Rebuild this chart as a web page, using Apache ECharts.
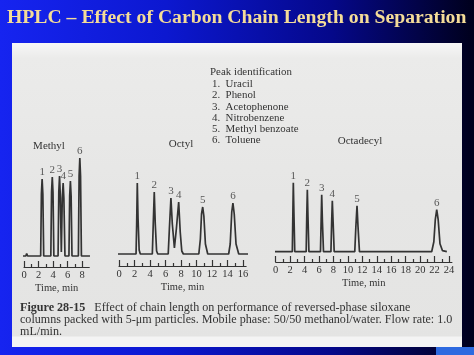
<!DOCTYPE html>
<html><head><meta charset="utf-8">
<script src="https://cdn.jsdelivr.net/npm/echarts@6/dist/echarts.min.js"></script>
<style>html,body{margin:0;padding:0;background:#000;}#c{width:474px;height:355px;}</style>
</head><body><div id="c"></div>
<script>
// ---------- text ----------
const titleText = 'HPLC \u2013 Effect of Carbon Chain Length on Separation';
const columnNames = ['Methyl', 'Octyl', 'Octadecyl'];
const axisName = 'Time, min';
const peakNumbers = ['1', '2', '3', '4', '5', '6'];
const peakIdentification = ['Peak identification', '1.  Uracil', '2.  Phenol', '3.  Acetophenone',
  '4.  Nitrobenzene', '5.  Methyl benzoate', '6.  Toluene'];
const captionBold = 'Figure 28-15';
const captionLines = ['Effect of chain length on performance of reversed-phase siloxane',
  'columns packed with 5-\u03bcm particles. Mobile phase: 50/50 methanol/water. Flow rate: 1.0',
  'mL/min.'];

// ---------- tick values (min) ----------
const methylTickLabels = [0, 2, 4, 6, 8];
const methylMinorTicks = [1, 3, 5, 7];
const octylTickLabels = [0, 2, 4, 6, 8, 10, 12, 14, 16];
const octylMinorTicks = [1, 3, 5, 7, 9, 11, 13, 15];
const octadecylTickLabels = [0, 2, 4, 6, 8, 10, 12, 14, 16, 18, 20, 22, 24];
const octadecylMinorTicks = [1, 3, 5, 7, 9, 11, 13, 15, 17, 19, 21, 23];

// ---------- peaks: retention time (min) and height (detector units) ----------
const methylPeakTimes = [2.5, 3.9, 4.9, 5.4, 6.4, 7.7];
const methylPeakHeights = [77, 79, 80, 73, 75, 98];
const octylPeakTimes = [2.36, 4.55, 6.7, 7.7, 10.8, 14.7];
const octylPeakHeights = [71, 62, 56, 52, 47, 51];
const octadecylPeakTimes = [2.44, 4.38, 6.37, 7.84, 11.26, 22.3];
const octadecylPeakHeights = [69, 62, 57, 51, 46, 42];

// ---------- chromatogram traces [time, signal] ----------
const methylTrace = [[-0.8, 0], [0.25, 0], [0.37, 2.5], [0.5, 0],
  [2.3, 0], [2.4, 62], [2.5, 77], [2.6, 62], [2.72, 0],
  [3.7, 0], [3.8, 64], [3.9, 79], [4.0, 64], [4.12, 0],
  [4.7, 0], [4.8, 64], [4.9, 80], [5.0, 62], [5.15, 4], [5.28, 58], [5.4, 73], [5.5, 58], [5.65, 0],
  [6.2, 0], [6.3, 60], [6.4, 75], [6.5, 60], [6.62, 0],
  [7.5, 0], [7.6, 80], [7.7, 98], [7.8, 80], [7.92, 0],
  [9.1, 0]];
const octylTrace = [[-0.25, 0], [0.65, 0], [0.75, 1.5], [0.85, 0],
  [2.2, 0], [2.28, 30], [2.36, 71], [2.46, 35], [2.6, 4], [2.75, 0],
  [4.3, 0], [4.42, 30], [4.55, 62], [4.68, 30], [4.85, 3], [5.0, 0],
  [6.35, 0], [6.5, 25], [6.7, 56], [6.88, 30], [7.15, 6], [7.4, 25], [7.7, 52], [7.9, 22], [8.1, 3], [8.3, 0],
  [10.3, 0], [10.5, 15], [10.65, 40], [10.8, 47], [10.95, 38], [11.15, 10], [11.45, 0],
  [14.15, 0], [14.35, 10], [14.55, 42], [14.7, 51], [14.87, 40], [15.1, 10], [15.45, 0],
  [16.9, 0]];
const octadecylTrace = [[-0.1, 0],
  [2.3, 0], [2.38, 40], [2.44, 69], [2.52, 40], [2.64, 0],
  [4.22, 0], [4.3, 35], [4.38, 62], [4.47, 35], [4.6, 0],
  [6.2, 0], [6.29, 30], [6.37, 57], [6.47, 30], [6.62, 0],
  [7.65, 0], [7.75, 30], [7.84, 51], [7.95, 30], [8.1, 0],
  [10.95, 0], [11.1, 25], [11.26, 46], [11.4, 25], [11.6, 0],
  [21.6, 0], [21.9, 10], [22.1, 32], [22.3, 42], [22.5, 32], [22.75, 8], [23.1, 1], [23.7, 0]];

// ---------- styling ----------
const ink = '#333333';
const serif = '"Liberation Serif", "DejaVu Serif", serif';

const panels = [
  { left: 24, width: 65.25, top: 155, height: 112, xMax: 9, yMin: -11, yMax: 101,
    majors: methylTickLabels, minors: methylMinorTicks, trace: methylTrace,
    times: methylPeakTimes, heights: methylPeakHeights },
  { left: 119, width: 127.1, top: 154, height: 112, xMax: 16.4, yMin: -12, yMax: 100,
    majors: octylTickLabels, minors: octylMinorTicks, trace: octylTrace,
    times: octylPeakTimes, heights: octylPeakHeights },
  { left: 275.7, width: 176.2, top: 150, height: 112, xMax: 24.4, yMin: -10.3, yMax: 101.7,
    majors: octadecylTickLabels, minors: octadecylMinorTicks, trace: octadecylTrace,
    times: octadecylPeakTimes, heights: octadecylPeakHeights }
];

const grid = [], xAxis = [], yAxis = [], series = [];
panels.forEach((p, i) => {
  grid.push({ left: p.left, top: p.top, width: p.width, height: p.height, containLabel: false });
  xAxis.push({
    type: 'value', gridIndex: i, min: 0, max: p.xMax, position: 'bottom',
    axisLine: { show: true, onZero: false, lineStyle: { color: ink, width: 1.2 } },
    axisTick: { show: true, inside: true, length: 6, customValues: p.majors, lineStyle: { color: ink, width: 1.2 } },
    axisLabel: { show: true, customValues: p.majors, margin: 3, fontFamily: serif, fontSize: 10.5, color: ink },
    splitLine: { show: false },
    name: axisName, nameLocation: 'middle', nameGap: 16,
    nameTextStyle: { fontFamily: serif, fontSize: 10.5, color: ink }
  });
  xAxis.push({
    type: 'value', gridIndex: i, min: 0, max: p.xMax, position: 'bottom',
    axisLine: { show: false, onZero: false },
    axisTick: { show: true, inside: true, length: 3, customValues: p.minors, lineStyle: { color: ink, width: 1.2 } },
    axisLabel: { show: false }, splitLine: { show: false }
  });
  yAxis.push({ type: 'value', gridIndex: i, min: p.yMin, max: p.yMax, show: false });
  series.push({
    type: 'line', xAxisIndex: 2 * i, yAxisIndex: i, data: p.trace, symbol: 'none',
    clip: false, lineStyle: { color: ink, width: 1.7 }, animation: false
  });
  series.push({
    type: 'scatter', xAxisIndex: 2 * i, yAxisIndex: i,
    data: p.times.map((t, k) => [t, p.heights[k]]),
    symbolSize: 0.1, itemStyle: { color: 'transparent' }, animation: false,
    label: { show: true, position: 'top', distance: 1, formatter: (d) => peakNumbers[d.dataIndex],
      fontFamily: serif, fontSize: 11, color: ink }
  });
});

const graphic = [
  { type: 'rect', z: -20, shape: { x: 0, y: 0, width: 474, height: 355 },
    style: { fill: new echarts.graphic.LinearGradient(0, 0, 1, 0, [
      { offset: 0, color: '#1624f0' }, { offset: 0.35, color: '#0c18d0' },
      { offset: 0.7, color: '#05088a' }, { offset: 1, color: '#00001c' }]) } },
  { type: 'rect', z: -19, shape: { x: 436, y: 347, width: 38, height: 8 }, style: { fill: '#2e6ae0' } },
  { type: 'rect', z: -18, shape: { x: 12, y: 43, width: 450, height: 304 },
    style: { fill: new echarts.graphic.LinearGradient(0, 0, 0, 1, [
      { offset: 0, color: '#f7f7f7' }, { offset: 0.05, color: '#ebebea' },
      { offset: 0.5, color: '#e6e6e5' }, { offset: 1, color: '#e4e4e3' }]) } },
  { type: 'rect', z: -17, shape: { x: 12, y: 336.5, width: 450, height: 10.5 }, style: { fill: '#f4f4f4' } },
  { type: 'text', z: 10, x: 7, y: 18, style: { text: titleText, fill: '#f4dc98',
    font: 'bold 19.7px "Liberation Serif", serif', textVerticalAlign: 'middle',
    shadowColor: 'rgba(0,0,0,0.6)', shadowOffsetX: 1, shadowOffsetY: 1, shadowBlur: 1 } },
  { type: 'text', z: 10, x: 49, y: 146, style: { text: columnNames[0], fill: ink, font: '11px ' + serif, textAlign: 'center', textVerticalAlign: 'middle' } },
  { type: 'text', z: 10, x: 181, y: 144, style: { text: columnNames[1], fill: ink, font: '11px ' + serif, textAlign: 'center', textVerticalAlign: 'middle' } },
  { type: 'text', z: 10, x: 360, y: 141, style: { text: columnNames[2], fill: ink, font: '11px ' + serif, textAlign: 'center', textVerticalAlign: 'middle' } }
];
const idY = [72, 84, 95.5, 107, 118, 129, 140];
peakIdentification.forEach((s, k) => {
  graphic.push({ type: 'text', z: 10, x: k === 0 ? 210 : 212, y: idY[k],
    style: { text: s, fill: ink, font: '10.9px ' + serif, textVerticalAlign: 'middle' } });
});
const capFont = 12.1;
graphic.push({ type: 'text', z: 10, x: 20, y: 308, style: {
  text: '{b|' + captionBold + '}   ' + captionLines[0], fill: ink, font: capFont + 'px ' + serif,
  textVerticalAlign: 'middle', rich: { b: { fontWeight: 'bold', fontSize: capFont, fontFamily: serif, fill: ink } } } });
graphic.push({ type: 'text', z: 10, x: 20, y: 320.3, style: { text: captionLines[1], fill: ink, font: capFont + 'px ' + serif, textVerticalAlign: 'middle' } });
graphic.push({ type: 'text', z: 10, x: 20, y: 332.3, style: { text: captionLines[2], fill: ink, font: capFont + 'px ' + serif, textVerticalAlign: 'middle' } });

const chart = echarts.init(document.getElementById('c'), null, { renderer: 'canvas' });
chart.setOption({ animation: false, backgroundColor: '#0c18d0', grid, xAxis, yAxis, series, graphic });
</script></body></html>
